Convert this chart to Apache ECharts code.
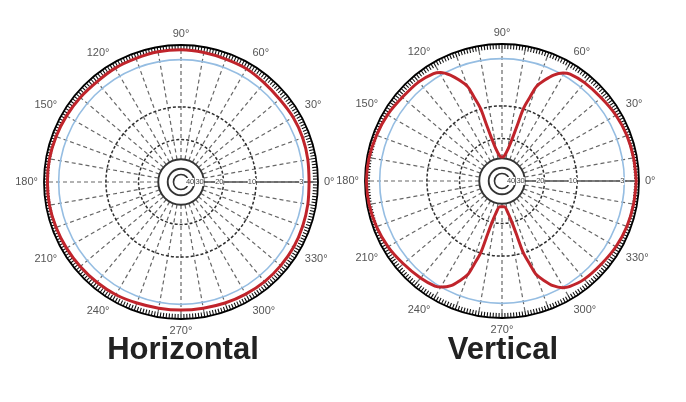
<!DOCTYPE html>
<html>
<head>
<meta charset="utf-8">
<script src="https://cdn.jsdelivr.net/npm/echarts@6/dist/echarts.min.js"></script>
<style>
html,body{margin:0;padding:0;background:#fff;}
#chart{width:686px;height:402px;}
</style>
</head>
<body>
<div id="chart"></div>
<script>
// ---- data (relative radius on the chart's log scale, 1 = outer circle) ----
const titles = ['Horizontal', 'Vertical'];

const horizAngles = [0,10,20,30,40,50,60,70,80,90,100,110,120,130,140,150,160,170,180,
                     190,200,210,220,230,240,250,260,270,280,290,300,310,320,330,340,350,360];
const horizR = [0.935,0.94,0.945,0.945,0.94,0.945,0.955,0.955,0.96,0.965,0.965,0.96,0.96,0.955,0.96,0.965,0.97,0.975,0.975,
                0.975,0.97,0.965,0.96,0.955,0.95,0.94,0.935,0.935,0.935,0.94,0.945,0.95,0.95,0.95,0.945,0.94,0.935];

const vertAngles = [0,10,20,30,40,50,57.5,60.5,64,67,70,71.5,73.5,74.5,76,79,85,
                    90,95,101,104,105.5,106.5,108.5,110,113,116,119.5,122.5,130,140,150,160,170,
                    180,190,200,210,220,230,237.5,240.5,244,247,250,251.5,253.5,254.5,256,259,265,
                    270,275,281,284,285.5,286.5,288.5,290,293,296,299.5,302.5,310,320,330,340,350,360];
const vertR = [0.98,0.975,0.97,0.96,0.945,0.937,0.925,0.905,0.86,0.80,0.733,0.648,0.553,0.44,0.334,0.243,0.183,
               0.175,0.183,0.243,0.334,0.44,0.553,0.648,0.733,0.80,0.86,0.91,0.93,0.945,0.95,0.965,0.975,0.985,
               0.99,0.985,0.975,0.96,0.94,0.925,0.91,0.89,0.85,0.79,0.725,0.64,0.545,0.435,0.33,0.245,0.188,
               0.188,0.188,0.245,0.33,0.435,0.545,0.64,0.725,0.79,0.85,0.895,0.915,0.935,0.945,0.96,0.97,0.975,0.98];

const angleLabelStep = 30;
const ringValues = [0.893, 0.548, 0.31, 0.166, 0.097, 0.055];
const ringLabels = ['3', '10', '20', '30', '40', ''];
const ringStyles = [
  {color:'#95bde2', width:1.6, type:'solid'},
  {color:'#2e2e2e', width:1.5, type:[3,2]},
  {color:'#2e2e2e', width:1.5, type:[3,2]},
  {color:'#333', width:1.9, type:'solid'},
  {color:'#333', width:1.9, type:'solid'},
  {color:'#333', width:1.6, type:'solid'}
];

// ---- layout ----
const R = 137;
const plots = [
  {title: titles[0], center: [181, 182], angles: horizAngles, radii: horizR, tx: 183},
  {title: titles[1], center: [502, 181], angles: vertAngles, radii: vertR, tx: 503}
];
const FONT = '"Liberation Sans", Arial, sans-serif';

const polar = [], angleAxis = [], radiusAxis = [], series = [], graphic = [];

plots.forEach(p => {
  // rings (each drawn as the circle of its own angle axis)
  ringValues.forEach((rv, k) => {
    const idx = polar.length;
    polar.push({center: p.center, radius: rv * R});
    angleAxis.push({polarIndex: idx, type:'value', min:0, max:360, startAngle:0, clockwise:false,
      axisLine:{show:true, lineStyle: ringStyles[k]}, axisTick:{show:false}, axisLabel:{show:false}, splitLine:{show:false}});
    radiusAxis.push({polarIndex: idx, type:'value', min:0, max:1, show:false});
  });

  // spokes + radial axis line
  let idx = polar.length;
  polar.push({center: p.center, radius: [ringValues[3] * R, R - 5]});
  angleAxis.push({polarIndex: idx, type:'value', min:0, max:360, interval:10, startAngle:0, clockwise:false,
    axisLine:{show:false}, axisTick:{show:false}, axisLabel:{show:false},
    splitLine:{show:true, lineStyle:{color:'#666', width:1.2, type:[4,3]}}});
  radiusAxis.push({polarIndex: idx, type:'value', min:0, max:1,
    axisLine:{show:true, lineStyle:{color:'#555', width:1.5}}, axisTick:{show:false}, axisLabel:{show:false}, splitLine:{show:false}});

  // main polar: outer ruler, angle labels, radial labels, data
  idx = polar.length;
  polar.push({center: p.center, radius: R});
  angleAxis.push({polarIndex: idx, type:'value', min:0, max:360, interval:10, startAngle:0, clockwise:false,
    axisLine:{show:true, lineStyle:{color:'#000', width:1.8}},
    axisTick:{show:true, inside:true, length:5, lineStyle:{color:'#111', width:1.1}},
    minorTick:{show:true, splitNumber:8, length:5, lineStyle:{color:'#111', width:1.1}},
    axisLabel:{show:true, margin:6, color:'#555', fontSize:11, fontFamily:FONT,
      formatter: v => (v % angleLabelStep === 0 && v < 360) ? v + '°' : ''},
    splitLine:{show:false}});
  radiusAxis.push({polarIndex: idx, type:'value', min:0, max:1, z:3,
    axisLine:{show:false}, axisTick:{show:false}, splitLine:{show:false},
    axisLabel:{show:true, customValues: ringValues.slice(0,5), margin:0, align:'right', verticalAlign:'middle',
      showMinLabel:true, showMaxLabel:true, hideOverlap:false,
      fontSize:7.5, color:'#444', fontFamily:FONT, backgroundColor:'#fff', padding:0,
      formatter: v => { const i = ringValues.findIndex(r => Math.abs(r - v) < 1e-6); return i >= 0 ? ringLabels[i] : ''; }}});

  series.push({type:'line', coordinateSystem:'polar', polarIndex: idx,
    data: p.radii.map((r, i) => [r, p.angles[i]]),
    smooth: 0.3, showSymbol:false, lineStyle:{color:'#c0242b', width:3}, z:5, animation:false});

  graphic.push({type:'text', x: p.tx, y: 350, z: 10,
    style:{text: p.title, fill:'#222', font:'bold 31px ' + FONT, align:'center', verticalAlign:'middle'}});
});

const chart = echarts.init(document.getElementById('chart'), null, {renderer:'canvas'});
chart.setOption({
  backgroundColor:'#fff',
  animation:false,
  polar, angleAxis, radiusAxis, series, graphic
});
</script>
</body>
</html>
